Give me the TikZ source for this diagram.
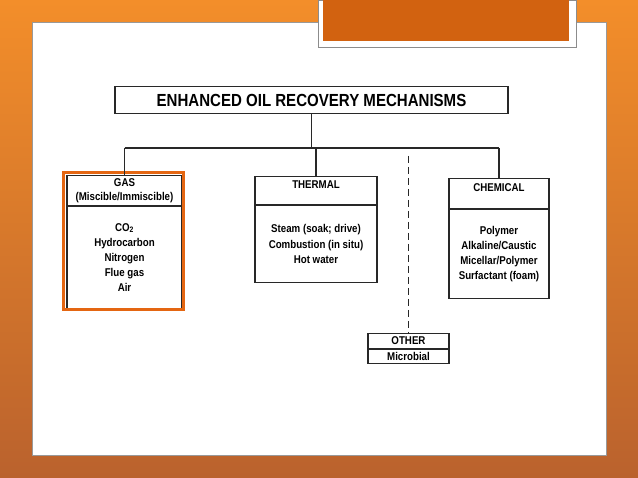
\documentclass[tikz,border=0pt]{standalone}
\usepackage{fontspec}
\setmainfont{Liberation Sans}[FakeStretch=0.86]
\usepackage{tikz}
\definecolor{slideTop}{RGB}{243, 142, 42}
\definecolor{slideBot}{RGB}{186, 98, 45}
\definecolor{titleOrange}{RGB}{210, 98, 16}
\definecolor{markOrange}{RGB}{228, 102, 18}
\definecolor{inkGray}{RGB}{40, 40, 40}

\tikzset{
  boxline/.style={draw=inkGray, line width=1.1pt},
  hdrbox/.style={boxline, rectangle, inner sep=0pt, align=center, font=\bfseries\fontsize{11.3}{14}\selectfont, anchor=north},
  bodybox/.style={boxline, rectangle, inner sep=0pt, align=center, font=\bfseries\fontsize{11.3}{15.2}\selectfont, anchor=north},
  link/.style={draw=inkGray, line width=1.1pt}
}

\begin{document}
\begin{tikzpicture}[x=1pt, y=-1pt]
  \useasboundingbox (0,0) rectangle (638,478);
  % slide background
  \shade[top color=slideTop, bottom color=slideBot] (0,0) rectangle (638,478);
  \fill[white, draw=black!40, line width=0.6pt] (32,22) rectangle (606,455);
  % title placeholder
  \fill[white, draw=black!45, line width=0.6pt] (318,0) rectangle (576,47);
  \fill[titleOrange] (323,0) rectangle (569,41);

  % main box
  \node[boxline, minimum width=393pt, minimum height=27pt, inner sep=0pt,
        font=\bfseries\fontsize{17.5}{20}\selectfont] (eor) at (311.5,100) {ENHANCED OIL RECOVERY MECHANISMS};

  % gas
  \node[hdrbox, minimum width=115pt, minimum height=30pt] (gasH) at (124.5,175) {GAS\\(Miscible/Immiscible)};
  \node[bodybox, minimum width=115pt, minimum height=102pt] (gasB) at (gasH.south) {CO\textsubscript{2}\\Hydrocarbon\\Nitrogen\\Flue gas\\Air};
  \draw[markOrange, line width=3.5pt] (63.5,172.5) rectangle (183.5,309.5);

  % thermal
  \node[hdrbox, minimum width=122pt, minimum height=28pt] (thmH) at (316,176) {THERMAL\\[-3pt]\mbox{}};
  \node[bodybox, minimum width=122pt, minimum height=77pt] (thmB) at (thmH.south) {Steam (soak; drive)\\Combustion (in situ)\\Hot water};

  % chemical
  \node[hdrbox, minimum width=100pt, minimum height=30pt] (chmH) at (499,178) {CHEMICAL\\[-3pt]\mbox{}};
  \node[bodybox, minimum width=100pt, minimum height=89pt] (chmB) at (chmH.south) {Polymer\\Alkaline/Caustic\\Micellar/Polymer\\Surfactant (foam)};

  % other
  \node[hdrbox, minimum width=81pt, minimum height=15pt] (othH) at (408.5,333) {OTHER};
  \node[hdrbox, minimum width=81pt, minimum height=14pt] (othB) at (othH.south) {Microbial};

  % connectors
  \coordinate (busL) at (124.5,148);
  \coordinate (busR) at (499,148);
  \draw[link] (eor.south) -- (eor.south |- busL);
  \draw[link] (busL) -- (busR);
  \draw[link] (busL) -- (gasH.north);
  \draw[link] (thmH.north |- busL) -- (thmH.north);
  \draw[link] (busR) -- (chmH.north);
  \draw[link, dash pattern=on 7pt off 4pt] (othH.north |- busL) ++(0,8) -- (othH.north);
\end{tikzpicture}
\end{document}
